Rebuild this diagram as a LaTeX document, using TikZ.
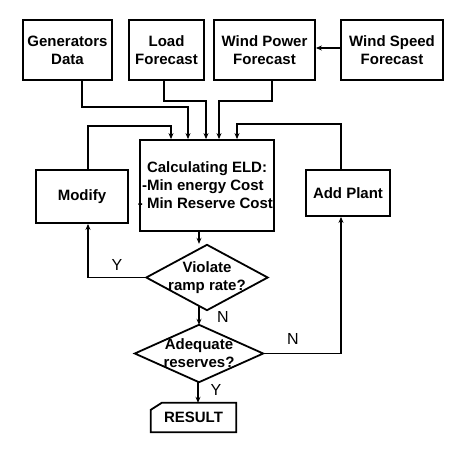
\documentclass[tikz,border=0pt]{standalone}
\usepackage{fontspec}
\setmainfont{Liberation Sans}
\usetikzlibrary{arrows.meta,calc}
\begin{document}
\begin{tikzpicture}[x=1pt,y=-1pt,
  every node/.style={font=\fontsize{15}{18}\selectfont\bfseries, inner sep=0pt, align=center},
  lbl/.style={font=\fontsize{16}{18}\selectfont},
  box/.style={draw, line width=1.8pt, rectangle},
  arr/.style={line width=1.5pt, -{Stealth[length=6pt,width=5pt]}},
  dia/.style={line width=1.8pt, line join=miter}
]
\useasboundingbox (0,0) rectangle (474,453);
% top row
\node[box, minimum width=89pt, minimum height=60pt] (gen) at (67.5,50) {Generators\\Data};
\node[box, minimum width=75pt, minimum height=60pt] (load) at (166.5,50) {Load\\Forecast};
\node[box, minimum width=101pt, minimum height=60pt] (wpf) at (264.5,50) {Wind Power\\Forecast};
\node[box, minimum width=102pt, minimum height=60pt] (wsf) at (392,50) {Wind Speed\\Forecast};
% middle
\node[box, minimum width=134pt, minimum height=91pt, align=left] (calc) at (207,185.5)
  {\hspace*{6pt}Calculating ELD:\\\hspace*{6pt}\llap{-}Min energy Cost\\\hspace*{6pt}\llap{- }Min Reserve Cost};
\node[box, minimum width=92pt, minimum height=53pt] (modify) at (82,196.5) {Modify};
\node[box, minimum width=84pt, minimum height=46pt] (add) at (348,193) {Add Plant};
% decisions
\node[minimum width=121pt, minimum height=65pt] (d1) at (207,277.5) {Violate\\ramp rate?};
\draw[dia] (d1.north) -- (d1.east) -- (d1.south) -- (d1.west) -- cycle;
\node[minimum width=128pt, minimum height=57pt] (d2) at (199,353.5) {Adequate\\reserves?};
\draw[dia] (d2.north) -- (d2.east) -- (d2.south) -- (d2.west) -- cycle;
% result
\node[minimum width=85pt, minimum height=29pt] (res) at (193.5,417.5) {RESULT};
\draw[dia] (res.south west) -- ([yshift=-7pt]res.north west) -- ([xshift=11pt]res.north west)
  -- (res.north east) -- (res.south east) -- cycle;
% connectors
\draw[arr] ([yshift=2pt]wsf.west) -- ([yshift=2pt]wpf.east);
\draw[arr] ([xshift=14.5pt]gen.south) |- ([xshift=-19pt,yshift=32pt]calc.north) -- ([xshift=-19pt]calc.north);
\draw[arr] ([xshift=-2.5pt]load.south) |- ([xshift=-1pt,yshift=38pt]calc.north) -- ([xshift=-1pt]calc.north);
\draw[arr] ([xshift=7.5pt]wpf.south) |- ([xshift=12pt,yshift=38pt]calc.north) -- ([xshift=12pt]calc.north);
\draw[arr] ([xshift=6pt]modify.north) |- ([xshift=-36pt,yshift=13pt]calc.north) -- ([xshift=-36pt]calc.north);
\draw[arr] ([xshift=-7pt]add.north) |- ([xshift=30pt,yshift=15pt]calc.north) -- ([xshift=30pt]calc.north);
\draw[arr] (calc.south -| d2.north) -- ([yshift=1pt]d2.north |- d1.north);
\draw[arr] ([yshift=4pt]d1.south -| d2.north) -- (d2.north);
\draw[arr] ([xshift=-1pt]d2.south) -- ([xshift=-1pt]d2.south |- res.north);
\draw[arr] (d1.west) -| ([xshift=6pt]modify.south);
\draw[arr] (d2.east) -| ([xshift=-7pt]add.south);
% labels
\node[lbl] (ly1) at (117,265) {Y};
\node[lbl] (ln1) at (223,317) {N};
\node[lbl] (ln2) at (293,339) {N};
\node[lbl] (ly2) at (216,390) {Y};
\end{tikzpicture}
\end{document}
